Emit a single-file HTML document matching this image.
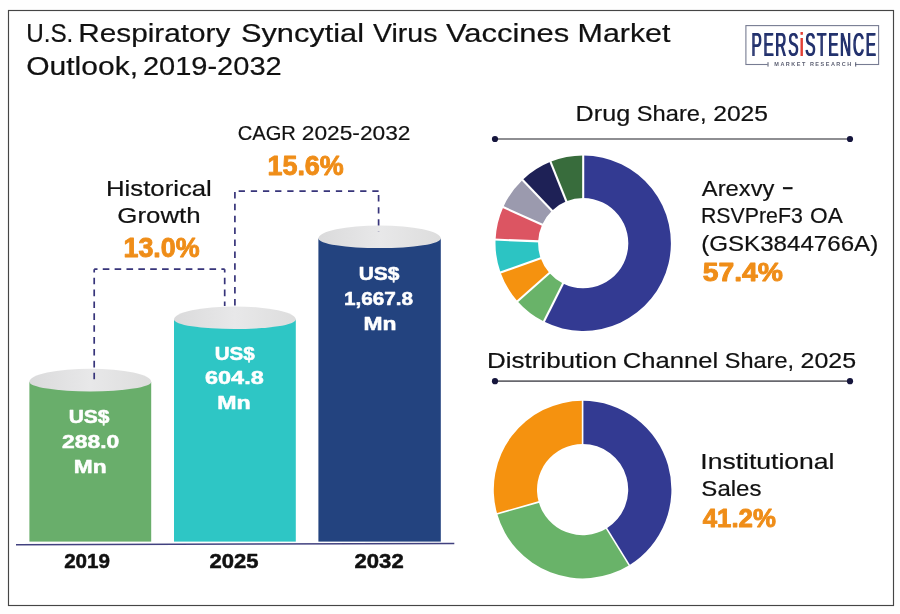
<!DOCTYPE html>
<html lang="en"><head><meta charset="utf-8"><title>U.S. Respiratory Syncytial Virus Vaccines Market Outlook, 2019-2032</title>
<style>
html,body{margin:0;padding:0;background:#fefefe;}
body{width:900px;height:614px;overflow:hidden;}
svg{display:block;font-family:"Liberation Sans", "DejaVu Sans", sans-serif;}
</style></head><body>
<svg width="900" height="614" viewBox="0 0 900 614">
<defs>
<filter id="fx" x="-5%" y="-5%" width="110%" height="110%"><feOffset in="SourceGraphic" dx="0.7" dy="0" result="o"/><feMerge><feMergeNode in="SourceGraphic"/><feMergeNode in="o"/></feMerge></filter>
<linearGradient id="eg" x1="0" y1="0" x2="1" y2="0"><stop offset="0" stop-color="#dadadb"/><stop offset="0.5" stop-color="#e8e8e9"/><stop offset="1" stop-color="#dddddd"/></linearGradient>
</defs>
<rect x="0" y="0" width="900" height="614" fill="#fefefe"/>
<rect x="8.5" y="10.5" width="885" height="595" fill="#ffffff" stroke="#454545" stroke-width="1.15"/>
<rect x="29.4" y="381.9" width="121.8" height="159.7" fill="#69ae6b"/><path d="M29.4 381.9 A60.90 13.2 0 0 1 151.2 381.9 A60.90 9.5 0 0 1 29.4 381.9 Z" fill="url(#eg)"/>
<rect x="174" y="319.6" width="121.8" height="222.0" fill="#2ec6c5"/><path d="M174 319.6 A60.90 13.2 0 0 1 295.8 319.6 A60.90 9.5 0 0 1 174 319.6 Z" fill="url(#eg)"/>
<rect x="318.4" y="238.6" width="122.4" height="303.0" fill="#23437f"/><path d="M318.4 238.6 A61.20 13.2 0 0 1 440.8 238.6 A61.20 9.5 0 0 1 318.4 238.6 Z" fill="url(#eg)"/>
<line x1="16" y1="544.7" x2="454.3" y2="543.6" stroke="#41417f" stroke-width="1.5"/>
<path d="M94.2 269.2 H224.7" fill="none" stroke="#37347a" stroke-width="1.7" stroke-dasharray="6.6 5.26" stroke-dashoffset="3.3"/>
<path d="M94.2 269.2 V382" fill="none" stroke="#37347a" stroke-width="1.7" stroke-dasharray="6.6 5.26" stroke-dashoffset="3.3"/>
<path d="M224.7 269.2 V306" fill="none" stroke="#37347a" stroke-width="1.7" stroke-dasharray="6.6 5.26" stroke-dashoffset="3.3"/>
<path d="M378.6 191.2 H234.9" fill="none" stroke="#37347a" stroke-width="1.7" stroke-dasharray="6.3 5.85"/>
<path d="M234.9 191.9 V306.5" fill="none" stroke="#37347a" stroke-width="1.7" stroke-dasharray="6.5 5.4"/>
<path d="M378.6 195.1 V231.7" fill="none" stroke="#37347a" stroke-width="1.7" stroke-dasharray="6.3 5.8"/>
<line x1="495" y1="139.0" x2="850" y2="139.0" stroke="#68686e" stroke-width="1.7"/>
<circle cx="495" cy="139.0" r="3.1" fill="#15153c"/><circle cx="850" cy="139.0" r="3.1" fill="#15153c"/>
<line x1="495" y1="381.2" x2="850" y2="381.2" stroke="#68686e" stroke-width="1.7"/>
<circle cx="495" cy="381.2" r="3.1" fill="#15153c"/><circle cx="850" cy="381.2" r="3.1" fill="#15153c"/>
<path d="M583.20 155.50 A87.7 87.7 0 1 1 543.88 321.59 L562.98 283.51 A45.1 45.1 0 1 0 583.20 198.10 Z" fill="#333a92"/>
<path d="M543.88 321.59 A87.7 87.7 0 0 1 517.47 301.26 L549.40 273.06 A45.1 45.1 0 0 0 562.98 283.51 Z" fill="#69b369"/>
<path d="M517.47 301.26 A87.7 87.7 0 0 1 500.55 272.54 L540.70 258.29 A45.1 45.1 0 0 0 549.40 273.06 Z" fill="#f5920f"/>
<path d="M500.55 272.54 A87.7 87.7 0 0 1 495.57 239.58 L538.14 241.34 A45.1 45.1 0 0 0 540.70 258.29 Z" fill="#2cc4c3"/>
<path d="M495.57 239.58 A87.7 87.7 0 0 1 503.25 207.15 L542.09 224.66 A45.1 45.1 0 0 0 538.14 241.34 Z" fill="#dc5562"/>
<path d="M503.25 207.15 A87.7 87.7 0 0 1 522.48 179.92 L551.97 210.66 A45.1 45.1 0 0 0 542.09 224.66 Z" fill="#9b9aae"/>
<path d="M522.48 179.92 A87.7 87.7 0 0 1 550.48 161.83 L566.37 201.36 A45.1 45.1 0 0 0 551.97 210.66 Z" fill="#1e2156"/>
<path d="M550.48 161.83 A87.7 87.7 0 0 1 583.20 155.50 L583.20 198.10 A45.1 45.1 0 0 0 566.37 201.36 Z" fill="#386c3c"/>
<line x1="583.20" y1="199.60" x2="583.20" y2="154.00" stroke="#fff" stroke-width="2.1"/>
<line x1="563.65" y1="282.17" x2="543.20" y2="322.93" stroke="#fff" stroke-width="2.1"/>
<line x1="550.52" y1="272.06" x2="516.34" y2="302.25" stroke="#fff" stroke-width="2.1"/>
<line x1="542.11" y1="257.78" x2="499.14" y2="273.04" stroke="#fff" stroke-width="2.1"/>
<line x1="539.64" y1="241.40" x2="494.08" y2="239.52" stroke="#fff" stroke-width="2.1"/>
<line x1="543.45" y1="225.28" x2="501.89" y2="206.53" stroke="#fff" stroke-width="2.1"/>
<line x1="553.01" y1="211.74" x2="521.44" y2="178.84" stroke="#fff" stroke-width="2.1"/>
<line x1="566.93" y1="202.75" x2="549.92" y2="160.44" stroke="#fff" stroke-width="2.1"/>
<path d="M582.60 400.80 A88.8 88.8 0 0 1 629.24 565.17 L606.55 528.41 A45.6 45.6 0 0 0 582.60 444.00 Z" fill="#333a92"/>
<path d="M629.24 565.17 A88.8 88.8 0 0 1 497.17 513.84 L538.73 502.05 A45.6 45.6 0 0 0 606.55 528.41 Z" fill="#69b369"/>
<path d="M497.17 513.84 A88.8 88.8 0 0 1 582.60 400.80 L582.60 444.00 A45.6 45.6 0 0 0 538.73 502.05 Z" fill="#f5920f"/>
<line x1="582.60" y1="445.50" x2="582.60" y2="399.30" stroke="#fff" stroke-width="1.6"/>
<line x1="605.76" y1="527.13" x2="630.02" y2="566.44" stroke="#fff" stroke-width="1.6"/>
<line x1="540.17" y1="501.64" x2="495.73" y2="514.25" stroke="#fff" stroke-width="1.6"/>

<rect x="745.9" y="25.6" width="132.7" height="38.9" fill="none" stroke="#777c92" stroke-width="1.1"/>
<rect x="767.6" y="60" width="87.6" height="9" fill="#fff"/>
<line x1="768" y1="62.2" x2="768" y2="66.6" stroke="#555a70" stroke-width="1"/>
<line x1="855.7" y1="62.2" x2="855.7" y2="66.6" stroke="#555a70" stroke-width="1"/>
<g filter="url(#fx)"><g transform="translate(751,56.2) scale(0.47,1)"><text x="0" y="0" font-size="32.6" font-weight="400" fill="#22306d" letter-spacing="3.64">PERS<tspan fill="#e2352b">i</tspan>STENCE</text></g></g>
<text x="774.3" y="66.4" font-size="5.5" font-weight="700" fill="#5c5f72" textLength="77" lengthAdjust="spacing">MARKET RESEARCH</text>

<text y="42.2" font-size="25" font-weight="400" fill="#111" stroke="#111" stroke-width="0.2" stroke-linejoin="round"><tspan x="26.14" textLength="47.25" lengthAdjust="spacingAndGlyphs">U.S.</tspan> <tspan x="78.39" textLength="152.00" lengthAdjust="spacingAndGlyphs">Respiratory</tspan> <tspan x="240.96" textLength="123.07" lengthAdjust="spacingAndGlyphs">Syncytial</tspan> <tspan x="373.03" textLength="64.40" lengthAdjust="spacingAndGlyphs">Virus</tspan> <tspan x="445.96" textLength="123.21" lengthAdjust="spacingAndGlyphs">Vaccines</tspan> <tspan x="577.57" textLength="92.91" lengthAdjust="spacingAndGlyphs">Market</tspan></text>
<text y="75.2" font-size="25" font-weight="400" fill="#111" stroke="#111" stroke-width="0.2" stroke-linejoin="round"><tspan x="26.28" textLength="111.72" lengthAdjust="spacingAndGlyphs">Outlook,</tspan> <tspan x="142.90" textLength="138.78" lengthAdjust="spacingAndGlyphs">2019-2032</tspan></text>
<text y="139.6" font-size="21" font-weight="400" fill="#111" stroke="#111" stroke-width="0.2" stroke-linejoin="round"><tspan x="237.73" textLength="58.17" lengthAdjust="spacingAndGlyphs">CAGR</tspan> <tspan x="301.83" textLength="108.66" lengthAdjust="spacingAndGlyphs">2025-2032</tspan></text>
<text x="267.46" y="175.2" font-size="26.8" font-weight="700" fill="#ef8d18" stroke="#ef8d18" stroke-width="0.9" stroke-linejoin="round" textLength="76.28" lengthAdjust="spacingAndGlyphs">15.6%</text>
<text x="106.02" y="196.2" font-size="22" font-weight="400" fill="#111" stroke="#111" stroke-width="0.2" stroke-linejoin="round" textLength="105.80" lengthAdjust="spacingAndGlyphs">Historical</text>
<text x="117.35" y="222.9" font-size="22" font-weight="400" fill="#111" stroke="#111" stroke-width="0.2" stroke-linejoin="round" textLength="83.27" lengthAdjust="spacingAndGlyphs">Growth</text>
<text x="123.51" y="256.6" font-size="26.8" font-weight="700" fill="#ef8d18" stroke="#ef8d18" stroke-width="0.9" stroke-linejoin="round" textLength="76.10" lengthAdjust="spacingAndGlyphs">13.0%</text>
<text x="68.66" y="423.2" font-size="17.5" font-weight="700" fill="#ffffff" stroke="#ffffff" stroke-width="0.5" stroke-linejoin="round" textLength="40.83" lengthAdjust="spacingAndGlyphs">US$</text>
<text x="62.14" y="448.3" font-size="17.5" font-weight="700" fill="#ffffff" stroke="#ffffff" stroke-width="0.5" stroke-linejoin="round" textLength="57.21" lengthAdjust="spacingAndGlyphs">288.0</text>
<text x="73.89" y="473.3" font-size="17.5" font-weight="700" fill="#ffffff" stroke="#ffffff" stroke-width="0.5" stroke-linejoin="round" textLength="32.80" lengthAdjust="spacingAndGlyphs">Mn</text>
<text x="214.66" y="359.8" font-size="17.5" font-weight="700" fill="#ffffff" stroke="#ffffff" stroke-width="0.5" stroke-linejoin="round" textLength="40.04" lengthAdjust="spacingAndGlyphs">US$</text>
<text x="205.04" y="383.7" font-size="17.5" font-weight="700" fill="#ffffff" stroke="#ffffff" stroke-width="0.5" stroke-linejoin="round" textLength="58.67" lengthAdjust="spacingAndGlyphs">604.8</text>
<text x="217.25" y="408.8" font-size="17.5" font-weight="700" fill="#ffffff" stroke="#ffffff" stroke-width="0.5" stroke-linejoin="round" textLength="33.47" lengthAdjust="spacingAndGlyphs">Mn</text>
<text x="358.66" y="279.5" font-size="17.5" font-weight="700" fill="#ffffff" stroke="#ffffff" stroke-width="0.5" stroke-linejoin="round" textLength="40.83" lengthAdjust="spacingAndGlyphs">US$</text>
<text x="343.91" y="304.6" font-size="17.5" font-weight="700" fill="#ffffff" stroke="#ffffff" stroke-width="0.5" stroke-linejoin="round" textLength="69.20" lengthAdjust="spacingAndGlyphs">1,667.8</text>
<text x="363.55" y="329.7" font-size="17.5" font-weight="700" fill="#ffffff" stroke="#ffffff" stroke-width="0.5" stroke-linejoin="round" textLength="33.02" lengthAdjust="spacingAndGlyphs">Mn</text>
<text x="64.17" y="568.0" font-size="20.5" font-weight="700" fill="#111111" stroke="#111111" stroke-width="0.5" stroke-linejoin="round" textLength="45.84" lengthAdjust="spacingAndGlyphs">2019</text>
<text x="209.49" y="568.0" font-size="20.5" font-weight="700" fill="#111111" stroke="#111111" stroke-width="0.5" stroke-linejoin="round" textLength="49.03" lengthAdjust="spacingAndGlyphs">2025</text>
<text x="354.57" y="568.0" font-size="20.5" font-weight="700" fill="#111111" stroke="#111111" stroke-width="0.5" stroke-linejoin="round" textLength="49.12" lengthAdjust="spacingAndGlyphs">2032</text>
<text y="120.5" font-size="22" font-weight="400" fill="#111" stroke="#111" stroke-width="0.2" stroke-linejoin="round"><tspan x="575.61" textLength="54.52" lengthAdjust="spacingAndGlyphs">Drug</tspan> <tspan x="636.80" textLength="69.72" lengthAdjust="spacingAndGlyphs">Share,</tspan> <tspan x="713.19" textLength="54.84" lengthAdjust="spacingAndGlyphs">2025</tspan></text>
<text y="367.9" font-size="22" font-weight="400" fill="#111" stroke="#111" stroke-width="0.2" stroke-linejoin="round"><tspan x="486.91" textLength="130.11" lengthAdjust="spacingAndGlyphs">Distribution</tspan> <tspan x="622.88" textLength="95.23" lengthAdjust="spacingAndGlyphs">Channel</tspan> <tspan x="724.80" textLength="69.19" lengthAdjust="spacingAndGlyphs">Share,</tspan> <tspan x="800.55" textLength="55.56" lengthAdjust="spacingAndGlyphs">2025</tspan></text>
<text y="196.2" font-size="22" font-weight="400" fill="#111" stroke="#111" stroke-width="0.2" stroke-linejoin="round"><tspan x="701.88" textLength="72.54" lengthAdjust="spacingAndGlyphs">Arexvy</tspan> <tspan x="781.82" dy="-2.4" stroke-width="0.5" textLength="11.95" lengthAdjust="spacingAndGlyphs">-</tspan></text>
<text y="223.1" font-size="22" font-weight="400" fill="#111" stroke="#111" stroke-width="0.2" stroke-linejoin="round"><tspan x="700.95" textLength="101.81" lengthAdjust="spacingAndGlyphs">RSVPreF3</tspan> <tspan x="810.01" textLength="32.76" lengthAdjust="spacingAndGlyphs">OA</tspan></text>
<text x="701.15" y="250.5" font-size="22" font-weight="400" fill="#111" stroke="#111" stroke-width="0.2" stroke-linejoin="round" textLength="177.07" lengthAdjust="spacingAndGlyphs">(GSK3844766A)</text>
<text x="702.80" y="281.0" font-size="25" font-weight="700" fill="#ef8d18" stroke="#ef8d18" stroke-width="0.9" stroke-linejoin="round" textLength="80.20" lengthAdjust="spacingAndGlyphs">57.4%</text>
<text x="700.31" y="469.4" font-size="22" font-weight="400" fill="#111" stroke="#111" stroke-width="0.2" stroke-linejoin="round" textLength="134.22" lengthAdjust="spacingAndGlyphs">Institutional</text>
<text x="701.37" y="496.3" font-size="22" font-weight="400" fill="#111" stroke="#111" stroke-width="0.2" stroke-linejoin="round" textLength="60.12" lengthAdjust="spacingAndGlyphs">Sales</text>
<text x="702.78" y="527.1" font-size="25" font-weight="700" fill="#ef8d18" stroke="#ef8d18" stroke-width="0.9" stroke-linejoin="round" textLength="73.12" lengthAdjust="spacingAndGlyphs">41.2%</text>
</svg>
</body></html>
